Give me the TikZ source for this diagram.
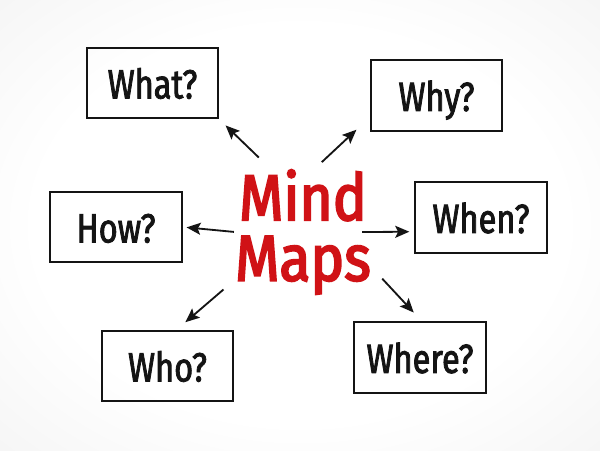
\documentclass[tikz,border=0pt]{standalone}
\usepackage{fontspec}
\setmainfont{Fira Sans}
\newfontfamily\boxfont{Fira Sans}[FakeBold=2,FakeStretch=0.8]
\newfontfamily\mindfont{Fira Sans}[FakeBold=3,FakeStretch=0.88]
\usepackage{tikz}
\usetikzlibrary{arrows.meta}
\definecolor{mindred}{RGB}{208,18,22}
\definecolor{ink}{RGB}{20,20,20}
\definecolor{bgmid}{RGB}{236,236,236}
\definecolor{bgedge}{RGB}{214,214,214}
\pgfdeclareradialshading{backdrop}{\pgfpoint{0bp}{0bp}}{color(0bp)=(white); color(22bp)=(white); color(50bp)=(bgmid); color(71bp)=(bgedge)}

\begin{document}
\begin{tikzpicture}[x=0.025cm,y=-0.025cm,
        qbox/.style={draw=ink,line width=1.4pt,minimum width=3.28cm,minimum height=1.76cm,inner sep=0pt,text=ink,font=\boxfont\fontsize{29}{29}\selectfont,text height=22pt,text depth=0pt},
        arr/.style={draw=ink,line width=1.3pt,-{Stealth[length=10pt,width=8.5pt,inset=2pt]}}]
            \shade[shading=backdrop] (0,0) rectangle (600,450);
            \node (mind) at (303,232)[text=mindred,align=center,inner sep=0pt,font=\mindfont\fontsize{46}{43}\selectfont]{Mind\\Maps};
            \node (what) at (152.5,83)[qbox]{What?};
            \node (why) at (436.5,95.5)[qbox]{Why?};
            \node (how) at (116,227)[qbox]{How?};
            \node (when) at (481,217.5)[qbox]{When?};
            \node (who) at (167.5,366)[qbox]{Who?};
            \node (where) at (420,357.5)[qbox]{Where?};
            \draw [arr,shorten <=12.1pt,shorten >=6.4pt] (mind.117)--(what.south east);
            \draw [arr,shorten <=7.5pt,shorten >=13.1pt] (mind.80)--(why.198);
            \draw [arr,shorten <=0.7pt,shorten >=2.8pt] (mind.west)--(how.east);
            \draw [arr,shorten <=-6.4pt,shorten >=3.6pt] (mind.east)--(when.192);
            \draw [arr,shorten <=10.7pt,shorten >=8.3pt] (mind.215)--(who.76);
            \draw [arr,shorten <=11.6pt,shorten >=8.5pt] (mind.-27)--(where.87);
\end{tikzpicture}
\end{document}
